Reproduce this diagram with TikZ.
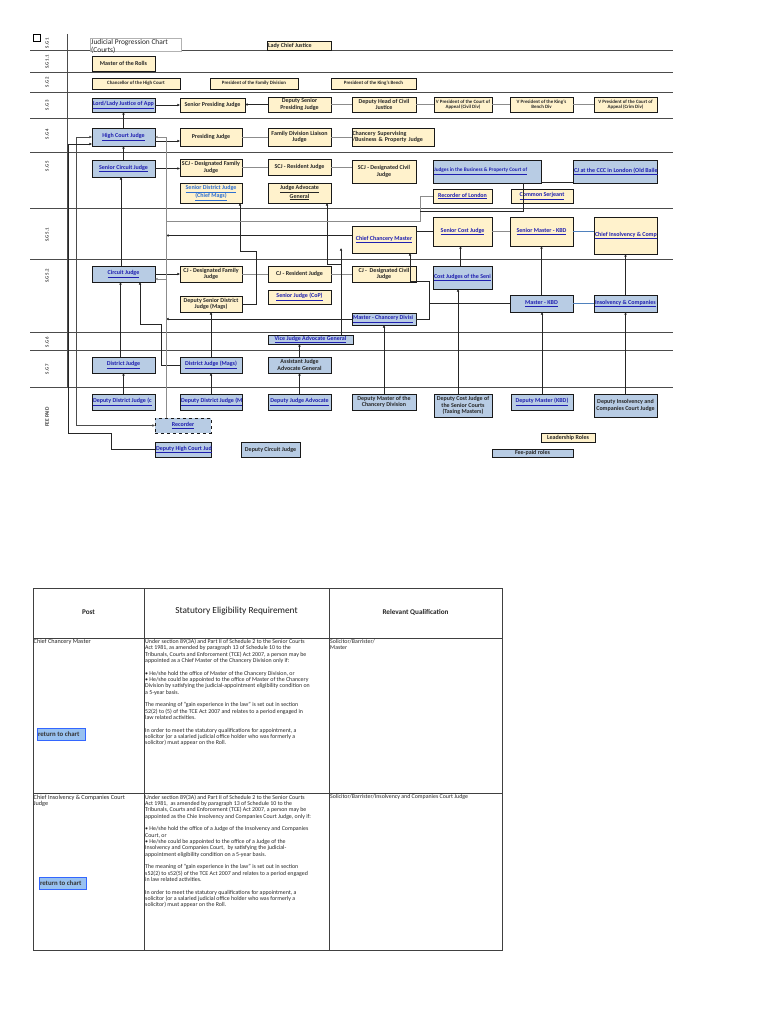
\documentclass[tikz,border=0pt]{standalone}
\usepackage{fontspec}
\setmainfont{Carlito}
\usetikzlibrary{arrows.meta}
\definecolor{creamc}{HTML}{FFF2CC}
\definecolor{bluec}{HTML}{B8CCE4}
\definecolor{linkc}{HTML}{1F1FB0}
\definecolor{linkl}{HTML}{2E6FD0}
\definecolor{btnc}{HTML}{99C2F0}
\definecolor{btnb}{HTML}{3366FF}
\definecolor{bluel}{HTML}{4F81BD}
\newcommand\fA{\fontsize{6}{6.2}\selectfont\bfseries}
\newcommand\fB{\fontsize{4.9}{5.3}\selectfont\bfseries}
\newcommand\fT{\fontsize{5.9}{6.35}\selectfont}
\newcommand\uln[1]{\underline{#1}}
\newcommand\jbox[7]{\node[#1, minimum width={(#5-#3)*1pt}, minimum height={(#6-#4)*1pt}] (#2) at ({(#3+#5)/2},{(#4+#6)/2}) {#7};}
\newcommand\jboxl[7]{\node[#1, minimum width={(#5-#3)*1pt}, minimum height={(#6-#4)*1pt}] (#2) at ({(#3+#5)/2},{(#4+#6)/2}) {\makebox[\dimexpr #5pt-#3pt-2pt\relax][l]{#7}};}
\tikzset{
  jb/.style={draw=black!90, line width=0.8pt, inner sep=0.5pt, outer sep=0pt, align=center, font=\fA, text=black!85},
  creambox/.style={jb, fill=creamc},
  bluebox/.style={jb, fill=bluec},
  lnk/.style={text=linkc},
  arr/.style={draw=black!85, line width=0.6pt, -{Latex[length=2.6pt,width=2.6pt]}},
  arrtwo/.style={draw=black!70, line width=0.6pt, {Latex[length=2.6pt,width=2.6pt]}-{Latex[length=2.6pt,width=2.6pt]}},
  garr/.style={draw=black!45, line width=0.6pt, -{Latex[length=2.6pt,width=2.6pt]}},
  gline/.style={draw=black!45, line width=0.6pt},
  kline/.style={draw=black!85, line width=0.6pt},
  bline/.style={draw=bluel, line width=0.6pt},
  rowline/.style={draw=black!70, line width=0.9pt},
  sg/.style={rotate=90, font=\fontsize{4.8}{5}\selectfont\bfseries, text=black!75, inner sep=0pt},
  tline/.style={draw=black!75, line width=0.9pt},
  btn/.style={draw=btnb, line width=1pt, fill=btnc, inner sep=0.5pt, font=\fontsize{6.8}{7}\selectfont\bfseries, text=black!80},
  ttext/.style={anchor=north west, align=left, inner sep=0pt, font=\fT, text=black!85}
}
\begin{document}
\begin{tikzpicture}[x=1pt,y=-1pt]
\useasboundingbox (0,0) rectangle (768,1024);
\fill[white] (0,0) rectangle (768,1024);

% grid of grade rows
\foreach \yy in {50,72,92,118,152,208,259,332,350,387} \draw[rowline] (30,\yy) -- (673,\yy);
\draw[rowline] (67,34) -- (67,387);
\node[draw=black, line width=0.8pt, fill=white, minimum size=7pt, inner sep=0pt] (chk) at (36.5,38) {};

% grade labels
\node[sg] (sg1) at (47,43) {S.G 1};
\node[sg] (sg11) at (47,62) {S.G 1.1};
\node[sg] (sg2) at (47,82) {S.G 2};
\node[sg] (sg3) at (47,105) {S.G 3};
\node[sg] (sg4) at (47,134) {S.G 4};
\node[sg] (sg5) at (47,166) {S.G 5};
\node[sg] (sg51) at (47,235) {S.G 5.1};
\node[sg] (sg52) at (47,276) {S.G 5.2};
\node[sg] (sg6) at (47,342) {S.G 6};
\node[sg] (sg7) at (47,369) {S.G 7};
\node[sg, font=\fontsize{5.4}{5.6}\selectfont\bfseries] (fee) at (47,417) {FEE PAID};

% title
\draw[draw=black!30, fill=white, line width=0.5pt] (90,38) rectangle (181,51);
\node[anchor=north west, align=left, inner sep=0pt, font=\fontsize{7.4}{6.2}\selectfont, text=black!85] (title) at (91,39.5) {Judicial Progression Chart\\(Courts)};

% boxes
\jboxl{creambox}{LCJ}{267}{41}{331}{50}{Lady Chief Justice}
\jbox{creambox}{MR}{92}{56}{155}{71}{Master of the Rolls}
\jbox{creambox, font=\fB}{CHC}{92}{78}{180}{89}{Chancellor of the High Court}
\jbox{creambox, font=\fB}{PFD}{210}{78}{298}{89}{President of the Family Division}
\jbox{creambox, font=\fB}{PKB}{331}{78}{416}{89}{President of the King's Bench}
\jboxl{bluebox, lnk}{LJA}{92}{98}{155}{112}{\uln{Lord/Lady Justice of App}}
\jbox{creambox}{SPJ}{180}{98}{245}{112}{Senior Presiding Judge}
\jbox{creambox}{DSPJ}{268}{97}{331}{112}{Deputy Senior\\Presiding Judge}
\jbox{creambox}{DHCiv}{352}{97}{416}{112}{Deputy Head of Civil\\Justice}
\jbox{creambox, font=\fB}{VPCA}{434}{97}{492}{112}{V President of the Court of\\Appeal (Civil Div)}
\jbox{creambox, font=\fB}{VPKB}{510}{97}{573}{112}{V President of the King's\\Bench Div}
\jbox{creambox, font=\fB}{VPCR}{594}{97}{657}{112}{V President of the Court of\\Appeal (Crim Div)}
\jbox{bluebox, lnk}{HCJ}{92}{128}{155}{146}{\uln{High Court Judge}}
\jbox{creambox}{PJ}{180}{128}{242}{146}{Presiding Judge}
\jbox{creambox}{FDLJ}{268}{128}{331}{146}{Family Division Liaison\\Judge}
\node[creambox, align=left, text width=81pt, minimum height=18pt] (CSBPJ) at (393,137) {Chancery Supervising\\/Business \& Property Judge};
\jbox{bluebox, lnk}{SCJ}{92}{160}{155}{177}{\uln{Senior Circuit Judge}}
\jbox{creambox}{SCJDFJ}{180}{159}{242}{176}{SCJ - Designated Family\\Judge}
\jbox{creambox}{SCJRJ}{268}{159}{331}{175}{SCJ - Resident Judge}
\jbox{creambox}{SCJDCJ}{352}{160}{416}{183}{SCJ - Designated Civil\\Judge}
\jboxl{bluebox, lnk, font=\fontsize{5.3}{5.5}\selectfont\bfseries}{BPC}{433}{160}{541}{183}{\uln{Judges in the Business \& Property Court of}}
\jboxl{bluebox, lnk}{CCC}{573}{160}{657}{183}{\uln{CJ at the CCC in London (Old Baile}}
\jbox{creambox, text=linkl}{SDJCM}{180}{183}{242}{203}{\uln{Senior District Judge}\\\uln{(Chief Mags)}}
\jbox{creambox}{JAG}{268}{183}{331}{203}{\uln{Judge Advocate}\\\uln{General}}
\jbox{creambox, lnk}{RoL}{433}{189}{492}{203}{\uln{Recorder of London}}
\jbox{creambox, lnk}{CS}{511}{189}{573}{203}{\uln{Common Serjeant}}
\jbox{creambox, lnk}{CCM}{352}{226}{416}{253}{\uln{Chief Chancery Master}}
\jbox{creambox, lnk}{SCostJ}{433}{217}{492}{246}{\uln{Senior Cost Judge}}
\jbox{creambox, lnk}{SMKBD}{510}{217}{573}{246}{\uln{Senior Master - KBD}}
\jboxl{creambox, lnk}{CICCJ}{594}{217}{657}{254}{\uln{Chief Insolvency \& Comp}}
\jbox{bluebox, lnk}{CJ}{92}{266}{155}{282}{\uln{Circuit Judge}}
\jbox{creambox}{CJDFJ}{180}{266}{242}{282}{CJ - Designated Family\\Judge}
\jbox{creambox}{CJRJ}{268}{266}{331}{282}{CJ - Resident Judge}
\jbox{creambox}{CJDCJ}{352}{266}{416}{282}{CJ -\ \ Designated Civil\\Judge}
\jboxl{bluebox, lnk}{CostJ}{433}{266}{492}{289}{\uln{Cost Judges of the Seni}}
\jbox{creambox}{DSDJ}{180}{296}{242}{312}{Deputy Senior District\\Judge (Mags)}
\jbox{creambox, lnk}{SJCoP}{268}{290}{331}{304}{\uln{Senior Judge (CoP)}}
\jbox{bluebox, lnk}{MKBD}{510}{295}{573}{312}{\uln{Master - KBD}}
\jboxl{bluebox, lnk}{ICC}{594}{295}{657}{312}{\uln{Insolvency \& Companies}}
\jboxl{bluebox, lnk}{MCD}{352}{313}{416}{325}{\uln{Master - Chancery Divisi}}
\jbox{bluebox, lnk}{VJAG}{268}{335}{353}{344}{\uln{Vice Judge Advocate General}}
\jbox{bluebox, lnk}{DJ}{92}{357}{155}{373}{\uln{District Judge}}
\jbox{bluebox, lnk}{DJM}{180}{357}{242}{373}{\uln{District Judge (Mags)}}
\jbox{bluebox}{AJAG}{268}{357}{331}{373}{Assistant Judge\\Advocate General}
\jboxl{bluebox, lnk}{DDJC}{92}{394}{155}{410}{\uln{Deputy District Judge (c}}
\jboxl{bluebox, lnk}{DDJM}{180}{394}{242}{410}{\uln{Deputy District Judge (M}}
\jbox{bluebox, lnk}{DJA}{268}{394}{331}{410}{\uln{Deputy Judge Advocate}}
\jbox{bluebox}{DMCD}{352}{394}{416}{410}{Deputy Master of the\\Chancery Division}
\jbox{bluebox}{DCJ}{434}{394}{492}{417}{Deputy Cost Judge of\\the Senior Courts\\(Taxing Masters)}
\jbox{bluebox, lnk}{DMKBD}{511}{394}{573}{410}{\uln{Deputy Master (KBD)}}
\jbox{bluebox}{DICCJ}{594}{394}{657}{417}{Deputy Insolvency and\\Companies Court Judge}
\jbox{bluebox, lnk, dashed}{REC}{155}{418}{211}{433}{\uln{Recorder}}
\jboxl{bluebox, lnk}{DHCtJ}{155}{442}{211}{457}{\uln{Deputy High Court Jud}}
\jbox{bluebox}{DCircJ}{241}{442}{300}{457}{Deputy Circuit Judge}
\jbox{creambox}{LR}{541}{433}{595}{442}{Leadership Roles}
\jbox{bluebox}{FPR}{492}{449}{573}{457}{Fee-paid roles}

% waypoints
\coordinate (busT) at (166,137);
\coordinate (p1) at (161,324);
\coordinate (p2) at (256,251);
\coordinate (p3) at (341,264);
\coordinate (p3b) at (341,248);
\coordinate (p4) at (429,281);
\coordinate (p5) at (76,137);
\coordinate (p6) at (111,433);
\coordinate (p7) at (68,433);
\coordinate (p8) at (420,221);
\coordinate (p9) at (523,211);

% connectors
\draw[arr] (LJA.east) -- (SPJ.west);
\draw[arr] (DSPJ.west) -- (DSPJ.west -| SPJ.east);
\draw[gline] (DSPJ.east) -- (DSPJ.east -| DHCiv.west);
\draw[gline] (DHCiv.east) -- (DHCiv.east -| VPCA.west);
\draw[gline] (VPCA.east) -- (VPCA.east -| VPKB.west);
\draw[gline] (VPKB.east) -- (VPKB.east -| VPCR.west);
\draw[arr] (HCJ.north) -- (LJA.south);
\draw[arr] ([yshift=-4pt]HCJ.east) -- ([yshift=-4pt]HCJ.east -| PJ.west);
\draw[gline] (PJ.east) -- (PJ.east -| FDLJ.west);
\draw[gline] (FDLJ.east) -- (FDLJ.east -| CSBPJ.west);
\draw[arr] (SCJ.north) -- (HCJ.south);
\draw[arr] (SCJ.east) -- (SCJ.east -| SCJDFJ.west);
\draw[gline] (SCJDFJ.east) -- (SCJDFJ.east -| SCJRJ.west);
\draw[gline] (SCJRJ.east) -- (SCJRJ.east -| SCJDCJ.west);
\draw[kline] ([yshift=1pt]BPC.south east) -- ([yshift=1pt]BPC.south east -| CCC.west);
\draw[arr] ([xshift=-2.5pt]CJ.north) -- ([xshift=-2.5pt]SCJ.south);
\draw[arr] (CJ.east) -- (CJ.east -| CJDFJ.west);
\draw[gline] (CJDFJ.east) -- (CJDFJ.east -| CJRJ.west);
\draw[gline] (CJRJ.east) -- (CJRJ.east -| CJDCJ.west);
\draw[arr] ([xshift=-3pt]DJ.north) -- ([xshift=-3pt]CJ.south);
\draw[arr] (DJM.west) -| (p1) -| ([xshift=16.5pt]CJ.south);
\draw[arr] (DDJC.north) -- (DJ.south);
\draw[arr] (DDJM.north) -- (DJM.south);
\draw[arr] (DJM.north) -- (DSDJ.south);
\draw[arr] (DSDJ.east) -| (p2) -| ([xshift=-2pt]SDJCM.south east);
\draw[arr] (AJAG.north) -- (AJAG.north |- VJAG.south);
\draw[arr] (DJA.north) -- (AJAG.south);
\draw[arr] (VJAG.north -| p3) -- (p3) -| ([xshift=27.5pt]JAG.south);
\draw[arr] (p3) -- (p3b);
\draw[arr] (DMCD.north) -- (MCD.south);
\draw[arr] (MCD.east) -| (p4) -| ([xshift=26pt]CCM.south);
\draw[kline] (MKBD.west) -- (MKBD.west -| p4);
\draw[arr] ([xshift=-5pt]DCJ.north) -- ([xshift=-5pt]DCJ.north |- CostJ.south);
\draw[arr] ([xshift=-2pt]CostJ.north) -- ([xshift=-2pt]SCostJ.south);
\draw[arr] (DMKBD.north) -- (DMKBD.north |- MKBD.south);
\draw[arr] (MKBD.north) -- (SMKBD.south);
\draw[arr] (DICCJ.north) -- (ICC.south);
\draw[arr] (ICC.north) -- (CICCJ.south);
\draw[bline] (MKBD.east) -- (MKBD.east -| ICC.west);
\draw[bline] (SMKBD.east) -- (SMKBD.east -| CICCJ.west);
\draw[gline] (SCostJ.east) -- (SCostJ.east -| SMKBD.west);
\draw[kline] (CCM.east |- SCostJ.west) -- (SCostJ.west);
\draw[arr] ([yshift=4pt]CCM.west) -- ([yshift=4pt]CCM.west -| busT);
\draw[arr] (MCD.west) -- (MCD.west -| busT);
\draw[garr] (REC.north -| busT) -- (busT) -- (HCJ.east);
\draw[garr] ([yshift=-5pt]CJ.east -| busT) -- ([yshift=-5pt]CJ.east);
\draw[arrtwo] (REC.west) -| (p5) -- (HCJ.west);
\draw[arr] (DHCtJ.west) -| (p6) -- (p7) |- ([yshift=-7pt]HCJ.west);
\draw[gline] (RoL.west) -| (p8) -- (p8 -| busT);
\draw[kline] (BPC.south -| p9) -- (p9) -- (p9 -| p8);

% ---------------- table ----------------
\draw[tline] (33,588) rectangle (502,950);
\draw[tline] (144,588) -- (144,950);
\draw[tline] (329,588) -- (329,950);
\draw[tline] (33,638) -- (502,638);
\draw[tline] (33,793) -- (502,793);
\node[font=\fontsize{7.2}{8}\selectfont\bfseries, text=black!85] (hPost) at (88.5,612) {Post};
\node[font=\fontsize{9.3}{10}\selectfont, text=black!90] (hStat) at (236.5,611) {Statutory Eligibility Requirement};
\node[font=\fontsize{7.2}{8}\selectfont\bfseries, text=black!85] (hRel) at (415.5,612) {Relevant Qualification};

\node[ttext, font=\fontsize{6.2}{6.5}\selectfont] (post1) at (33.5,639) {Chief Chancery Master};
\node[ttext] (req1) at (145,639) {Under section 89(3A) and Part II of Schedule 2 to the Senior Courts\\
Act 1981, as amended by paragraph 13 of Schedule 10 to the\\
Tribunals, Courts and Enforcement (TCE) Act 2007, a person may be\\
appointed as a Chief Master of the Chancery Division only if:\\[6.3pt]
\textbullet{} He/she hold the office of Master of the Chancery Division, or\\
\textbullet{} He/she could be appointed to the office of Master of the Chancery\\
Division by satisfying the judicial-appointment eligibility condition on\\
a 5-year basis.\\[6.3pt]
The meaning of "gain experience in the law" is set out in section\\
52(2) to (5) of the TCE Act 2007 and relates to a period engaged in\\
law related activities.\\[6.3pt]
In order to meet the statutory qualifications for appointment, a\\
solicitor (or a salaried judicial office holder who was formerly a\\
solicitor) must appear on the Roll.};
\node[ttext] (qual1) at (330,639) {Solicitor/Barrister/\\Master};
\jboxl{btn}{rtc1}{37}{728}{85}{740}{return to chart}

\node[ttext, font=\fontsize{6.2}{6.5}\selectfont] (post2) at (33.5,794.5) {Chief Insolvency \& Companies Court\\Judge};
\node[ttext] (req2) at (145,794.5) {Under section 89(3A) and Part II of Schedule 2 to the Senior Courts\\
Act 1981,\ \ as amended by paragraph 13 of Schedule 10 to the\\
Tribunals, Courts and Enforcement (TCE) Act 2007, a person may be\\
appointed as the Chie Insolvency and Companies Court Judge, only if:\\[6.3pt]
\textbullet{} He/she hold the office of a Judge of the Insolvency and Companies\\
Court, or\\
\textbullet{} He/she could be appointed to the office of a Judge of the\\
Insolvency and Companies Court,\ \ by satisfying the judicial-\\
appointment eligibility condition on a 5-year basis.\\[6.3pt]
The meaning of "gain experience in the law" is set out in section\\
s52(2) to s52(5) of the TCE Act 2007 and relates to a period engaged\\
in law related activities.\\[6.3pt]
In order to meet the statutory qualifications for appointment, a\\
solicitor (or a salaried judicial office holder who was formerly a\\
solicitor) must appear on the Roll.};
\node[ttext] (qual2) at (330,794.5) {Solicitor/Barrister/Insolvency and Companies Court Judge};
\jboxl{btn}{rtc2}{39}{877}{86}{889}{return to chart}
\end{tikzpicture}
\end{document}
